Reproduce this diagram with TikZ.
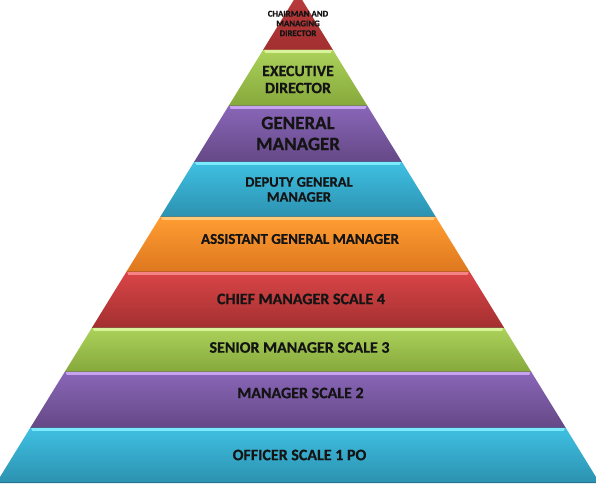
\documentclass[tikz,border=0pt]{standalone}
\usepackage{fontspec}
\setmainfont{Carlito}[BoldFeatures={FakeBold=0.6}]
\definecolor{redT}{HTML}{DA4547}
\definecolor{redB}{HTML}{A32F30}
\definecolor{redH}{HTML}{F58284}
\definecolor{grnT}{HTML}{ABD25A}
\definecolor{grnB}{HTML}{86A83C}
\definecolor{grnH}{HTML}{D8F39A}
\definecolor{purT}{HTML}{8966B8}
\definecolor{purB}{HTML}{654886}
\definecolor{purH}{HTML}{C7A2F0}
\definecolor{cyaT}{HTML}{3FC0E2}
\definecolor{cyaB}{HTML}{2C91B0}
\definecolor{cyaH}{HTML}{7BEAFF}
\definecolor{orgT}{HTML}{FF9D33}
\definecolor{orgB}{HTML}{DE771E}
\definecolor{orgH}{HTML}{FFC878}
\definecolor{txt}{HTML}{141414}
\newcommand\pyrk{0.616}
\newcommand\pyrz{-6.8}
\newcommand\pyrlayer[5]{%
  \pgfmathsetmacro\pyrha{\pyrk*(#1-\pyrz)}%
  \pgfmathsetmacro\pyrhb{\pyrk*(#2-\pyrz)}%
  \pgfmathsetmacro\pyrhc{\pyrk*(#1+3-\pyrz)}%
  \shade[top color=#3,bottom color=#4]
    ({298-\pyrha},{484-#1}) -- ({298+\pyrha},{484-#1}) --
    ({298+\pyrhb},{484-#2}) -- ({298-\pyrhb},{484-#2}) -- cycle;
  \fill[#5]
    ({298-\pyrha+1},{484-#1}) -- ({298+\pyrha-1},{484-#1}) --
    ({298+\pyrhc-4},{484-#1-3}) -- ({298-\pyrhc+4},{484-#1-3}) -- cycle;
  \draw[#4!80!black,line width=0.6pt]
    ({298-\pyrhb+0.5},{484-#2+0.3}) -- ({298+\pyrhb-0.5},{484-#2+0.3});
}
\tikzset{
  lbl/.style={text=txt,align=center,inner sep=0pt,font=\bfseries\fontsize{16}{17}\selectfont},
}
\begin{document}
\begin{tikzpicture}[x=1pt,y=1pt]
\useasboundingbox (0,0) rectangle (596,484);
\begin{scope}
\clip (0,0) rectangle (596,484);
% apex layer
\pgfmathsetmacro\pyrhb{\pyrk*(50-\pyrz)}
\shade[top color=redT!85!black,bottom color=redB]
  (298,{484-\pyrz}) -- ({298+\pyrhb},434) -- ({298-\pyrhb},434) -- cycle;
\pyrlayer{50}{106}{grnT}{grnB}{grnH}
\pyrlayer{106}{162}{purT}{purB}{purH}
\pyrlayer{162}{217}{cyaT}{cyaB}{cyaH}
\pyrlayer{217}{272}{orgT}{orgB}{orgH}
\pyrlayer{272}{328}{redT}{redB}{redH}
\pyrlayer{328}{372}{grnT}{grnB}{grnH}
\pyrlayer{372}{428}{purT}{purB}{purH}
\pyrlayer{428}{483}{cyaT}{cyaB}{cyaH}
\end{scope}
\node[lbl,font=\bfseries\fontsize{8.8}{9.8}\selectfont] (chair) at (298,{484-23.5}) {CHAIRMAN AND\\MANAGING\\DIRECTOR};
\node[lbl,font=\bfseries\fontsize{15.8}{17}\selectfont] (exec) at (298,{484-79.5}) {EXECUTIVE\\DIRECTOR};
\node[lbl,font=\bfseries\fontsize{19}{21}\selectfont] (gm) at (298,{484-133.5}) {GENERAL\\MANAGER};
\node[lbl,font=\bfseries\fontsize{14.5}{15}\selectfont] (dgm) at (299,{484-189.5}) {DEPUTY GENERAL\\MANAGER};
\node[lbl,font=\bfseries\fontsize{15}{16}\selectfont] (agm) at (300,{484-239}) {ASSISTANT GENERAL MANAGER};
\node[lbl] (cm4) at (301,{484-299}) {CHIEF MANAGER SCALE 4};
\node[lbl] (sm3) at (299.5,{484-347.5}) {SENIOR MANAGER SCALE 3};
\node[lbl] (ms2) at (300.5,{484-393}) {MANAGER SCALE 2};
\node[lbl] (os1) at (299.5,{484-455}) {OFFICER SCALE 1 PO};
\end{tikzpicture}
\end{document}
